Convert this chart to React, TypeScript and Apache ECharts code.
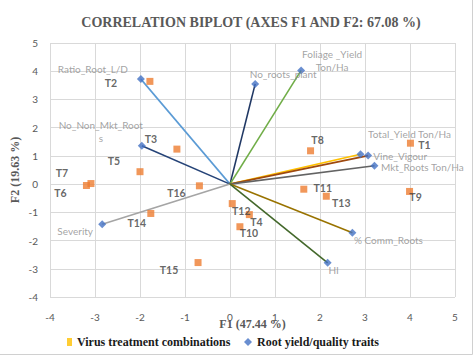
import React, { useEffect, useRef } from "react";
import * as echarts from "echarts";

// Treatments (observations)
const treatNames = ["T1", "T2", "T3", "T4", "T5", "T6", "T7", "T8", "T9", "T10", "T11", "T12", "T13", "T14", "T15", "T16"];
const treatF1 = [4.01, -1.78, -1.18, 0.43, -2.0, -3.19, -3.09, 1.79, 3.99, 0.22, 1.64, 0.05, 2.14, -1.76, -0.71, -0.68];
const treatF2 = [1.45, 3.64, 1.24, -1.08, 0.44, -0.05, 0.02, 1.18, -0.26, -1.51, -0.18, -0.69, -0.43, -1.04, -2.78, -0.06];

// Traits (variables)
const traitNames = [
  "Ratio_Root_L/D",
  "No_Non_Mkt_Root\ns",
  "Severity",
  "No_roots_plant",
  "Foliage _Yield\nTon/Ha",
  "Total_Yield Ton/Ha",
  "Vine_Vigour",
  "Mkt_Roots Ton/Ha",
  "% Comm_Roots",
  "HI",
];
const traitF1 = [-1.98, -1.96, -2.84, 0.56, 1.58, 2.9, 3.07, 3.21, 2.72, 2.17];
const traitF2 = [3.72, 1.36, -1.42, 3.55, 4.03, 1.06, 1.01, 0.65, -1.72, -2.79];

const axisTicks = [-4, -3, -2, -1, 0, 1, 2, 3, 4, 5];

// styling (not data)
const traitColors = ["#5B9BD5", "#264478", "#A5A5A5", "#203864", "#70AD47", "#FFC000", "#9E480E", "#636363", "#997300", "#43682B"];
const treatLabelOffset: Record<string, [number, number]> = {
  T1: [14, 2], T2: [-39, 2], T3: [-26, -10], T4: [7, 7], T5: [-26, -11], T6: [-26, 7], T7: [-29, -11], T8: [7, -11],
  T9: [6, 6], T10: [9, 6], T11: [19, -1], T12: [9, 7], T13: [15, 7], T14: [-14, 10], T15: [-29, 7], T16: [-23, 7],
};
const traitLabelOffset: [number, number][] = [
  [-48, -10], [-41, -14], [-27, 7], [28, -10], [31, -10], [49, -20], [32, 0], [48, 1], [36, 7], [6, 7],
];

const SERIF = "'Liberation Serif', 'Times New Roman', serif";
const SANS = "Lato, 'Open Sans', sans-serif";

export default function App() {
  const ref = useRef<HTMLDivElement>(null);
  useEffect(() => {
    if (!ref.current) return;
    const chart = echarts.init(ref.current, undefined, { renderer: "svg" });
    const lineSeries = traitNames.map((n, i) => ({
      type: "line",
      name: "vec_" + i,
      data: [[0, 0], [traitF1[i], traitF2[i]]],
      showSymbol: false,
      symbol: "none",
      silent: true,
      z: 1,
      lineStyle: { color: traitColors[i], width: 1.6 },
    }));
    chart.setOption({
      animation: false,
      title: {
        text: "CORRELATION BIPLOT (AXES F1 AND F2: 67.08 %)",
        left: 246,
        textAlign: "center",
        top: 10,
        textStyle: { fontFamily: SERIF, fontWeight: "bold", fontSize: 14, color: "#595959" },
      },
      legend: [
        {
          data: [{ name: "Virus treatment combinations", icon: "rect", itemStyle: { color: "#FFC000" } }],
          left: 62,
          top: 331,
          itemWidth: 5,
          itemHeight: 8,
          textStyle: { fontFamily: SERIF, fontWeight: "bold", fontSize: 12, color: "#1a1a1a" },
        },
        {
          data: [{ name: "Root yield/quality traits", icon: "diamond", itemStyle: { color: "#4472C4" } }],
          left: 239,
          top: 331,
          itemWidth: 8,
          itemHeight: 8,
          textStyle: { fontFamily: SERIF, fontWeight: "bold", fontSize: 12, color: "#1a1a1a" },
        },
      ],
      grid: { left: 50, right: 19, top: 43, bottom: 58, containLabel: false },
      xAxis: {
        type: "value",
        min: axisTicks[0],
        max: axisTicks[axisTicks.length - 1],
        interval: 1,
        name: "F1 (47.44 %)",
        nameLocation: "middle",
        nameGap: 21,
        nameMoveOverlap: false,
        nameTextStyle: { fontFamily: SERIF, fontWeight: "bold", fontSize: 12, color: "#595959" },
        axisLine: { show: false },
        axisTick: { show: false },
        axisLabel: { margin: 15, color: "#595959", fontFamily: SANS, fontSize: 10 },
        splitLine: { lineStyle: { color: "#D9D9D9", width: 1 } },
      },
      yAxis: {
        type: "value",
        min: axisTicks[0],
        max: axisTicks[axisTicks.length - 1],
        interval: 1,
        name: "F2 (19.63 %)",
        nameLocation: "middle",
        nameGap: 29,
        nameMoveOverlap: false,
        nameTextStyle: { fontFamily: SERIF, fontWeight: "bold", fontSize: 12, color: "#595959" },
        axisLine: { show: false },
        axisTick: { show: false },
        axisLabel: { margin: 12, color: "#595959", fontFamily: SANS, fontSize: 10 },
        splitLine: { lineStyle: { color: "#D9D9D9", width: 1 } },
      },
      graphic: [
        { type: "line", shape: { x1: 472.5, y1: 0, x2: 472.5, y2: 354.5 }, style: { stroke: "#D0D0D0", lineWidth: 1 } },
        { type: "line", shape: { x1: 0, y1: 354.5, x2: 472.5, y2: 354.5 }, style: { stroke: "#D0D0D0", lineWidth: 1 } },
      ],
      series: [
        ...lineSeries,
        {
          type: "scatter",
          name: "Virus treatment combinations",
          symbol: "rect",
          symbolSize: 7,
          z: 3,
          itemStyle: { color: "#ED7D31" },
          data: treatNames.map((n, i) => ({
            value: [treatF1[i], treatF2[i]],
            name: n,
            label: { offset: treatLabelOffset[n] },
          })),
          label: {
            show: true,
            position: "inside",
            formatter: (p: any) => p.name,
            fontFamily: SANS,
            fontWeight: "bold",
            fontSize: 10.5,
            color: "#404040",
          },
        },
        {
          type: "scatter",
          name: "Root yield/quality traits",
          symbol: "diamond",
          symbolSize: 8,
          z: 4,
          itemStyle: { color: "#4472C4" },
          data: traitNames.map((n, i) => ({
            value: [traitF1[i], traitF2[i]],
            name: n,
            label: { offset: traitLabelOffset[i] },
          })),
          label: {
            show: true,
            position: "inside",
            formatter: (p: any) => p.name,
            fontFamily: SANS,
            fontSize: 10,
            lineHeight: 13,
            align: "center",
            color: "#8C8C8C",
          },
        },
      ],
    });
    return () => chart.dispose();
  }, []);
  return <div ref={ref} style={{ position: "absolute", left: 0, top: 0, width: 474, height: 355 }} />;
}
